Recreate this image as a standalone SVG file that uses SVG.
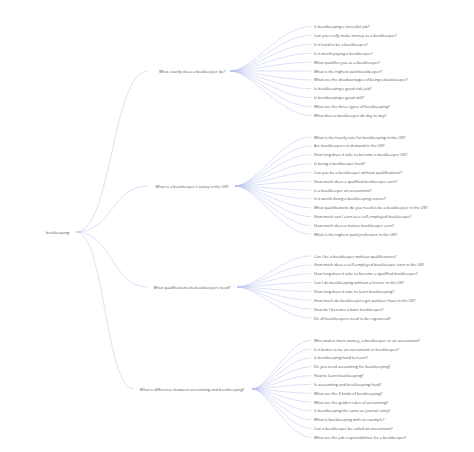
<svg xmlns="http://www.w3.org/2000/svg" width="474" height="452" viewBox="0 0 474 452">
<style>
text{font-family:"Open Sans","Liberation Sans",sans-serif;font-size:3.9px;fill:#555;dominant-baseline:central}
.b{text-anchor:middle}
.c path{fill:none;stroke:#b8c3f1;stroke-width:0.5}
</style>
<rect width="474" height="452" fill="#fff"/>
<g class="c" id="connectors">
<path d="M76 232 C112 232,112 71,148 71"/>
<path d="M76 232 C112 232,112 186,148 186"/>
<path d="M76 232 C112 232,112 287,148 287"/>
<path d="M76 232 C105 232,105 389,134 389"/>
<g id="f1">
<path d="M230 71 C252 71,280 26.5,311 26.5"/><path d="M230 71 C252 71,280 35.4,311 35.4"/><path d="M230 71 C252 71,280 44.3,311 44.3"/><path d="M230 71 C252 71,280 53.2,311 53.2"/><path d="M230 71 C252 71,280 62.1,311 62.1"/><path d="M230 71 C252 71,280 71,311 71"/><path d="M230 71 C252 71,280 79.9,311 79.9"/><path d="M230 71 C252 71,280 88.8,311 88.8"/><path d="M230 71 C252 71,280 97.7,311 97.7"/><path d="M230 71 C252 71,280 106.6,311 106.6"/><path d="M230 71 C252 71,280 115.5,311 115.5"/>
</g>
<g id="f2">
<path d="M235 186 C256 186,282 137,311 137"/><path d="M235 186 C256 186,282 145.85,311 145.85"/><path d="M235 186 C256 186,282 154.7,311 154.7"/><path d="M235 186 C256 186,282 163.55,311 163.55"/><path d="M235 186 C256 186,282 172.4,311 172.4"/><path d="M235 186 C256 186,282 181.25,311 181.25"/><path d="M235 186 C256 186,282 190.1,311 190.1"/><path d="M235 186 C256 186,282 198.95,311 198.95"/><path d="M235 186 C256 186,282 207.8,311 207.8"/><path d="M235 186 C256 186,282 216.65,311 216.65"/><path d="M235 186 C256 186,282 225.5,311 225.5"/><path d="M235 186 C256 186,282 234.35,311 234.35"/>
</g>
<g id="f3">
<path d="M237 287 C257 287,283 256,311 256"/><path d="M237 287 C257 287,283 264.86,311 264.86"/><path d="M237 287 C257 287,283 273.71,311 273.71"/><path d="M237 287 C257 287,283 282.57,311 282.57"/><path d="M237 287 C257 287,283 291.43,311 291.43"/><path d="M237 287 C257 287,283 300.29,311 300.29"/><path d="M237 287 C257 287,283 309.14,311 309.14"/><path d="M237 287 C257 287,283 318,311 318"/>
</g>
<g id="f4">
<path d="M252 389 C268 389,288 340.3,311 340.3"/><path d="M252 389 C268 389,288 349.12,311 349.12"/><path d="M252 389 C268 389,288 357.94,311 357.94"/><path d="M252 389 C268 389,288 366.76,311 366.76"/><path d="M252 389 C268 389,288 375.58,311 375.58"/><path d="M252 389 C268 389,288 384.4,311 384.4"/><path d="M252 389 C268 389,288 393.22,311 393.22"/><path d="M252 389 C268 389,288 402.04,311 402.04"/><path d="M252 389 C268 389,288 410.86,311 410.86"/><path d="M252 389 C268 389,288 419.68,311 419.68"/><path d="M252 389 C268 389,288 428.5,311 428.5"/><path d="M252 389 C268 389,288 437.3,311 437.3"/>
</g>
</g>
<g id="root"><text x="57.5" y="232" class="b">bookkeeping</text></g>
<g id="b1"><text x="192" y="71" class="b">What exactly does a bookkeeper do?</text></g>
<g id="b2"><text x="192" y="186" class="b">What is a bookkeeper's salary in the UK?</text></g>
<g id="b3"><text x="192" y="287" class="b">What qualifications do bookkeepers need?</text></g>
<g id="b4"><text x="192" y="389" class="b">What is difference between accounting and bookkeeping?</text></g>
<g id="leaves1">
<text x="314" y="26.5">Is bookkeeping a stressful job?</text>
<text x="314" y="35.4">Can you really make money as a bookkeeper?</text>
<text x="314" y="44.3">Is it hard to be a bookkeeper?</text>
<text x="314" y="53.2">Is it worth paying a bookkeeper?</text>
<text x="314" y="62.1">What qualifies you as a bookkeeper?</text>
<text x="314" y="71">What is the highest paid bookkeeper?</text>
<text x="314" y="79.9">What are the disadvantages of being a bookkeeper?</text>
<text x="314" y="88.8">Is bookkeeping a good side job?</text>
<text x="314" y="97.7">Is bookkeeping a good skill?</text>
<text x="314" y="106.6">What are the three types of bookkeeping?</text>
<text x="314" y="115.5">What does a bookkeeper do day to day?</text>
</g>
<g id="leaves2">
<text x="314" y="137">What is the hourly rate for bookkeeping in the UK?</text>
<text x="314" y="145.85">Are bookkeepers in demand in the UK?</text>
<text x="314" y="154.7">How long does it take to become a bookkeeper UK?</text>
<text x="314" y="163.55">Is being a bookkeeper hard?</text>
<text x="314" y="172.4">Can you be a bookkeeper without qualifications?</text>
<text x="314" y="181.25">How much does a qualified bookkeeper earn?</text>
<text x="314" y="190.1">Is a bookkeeper an accountant?</text>
<text x="314" y="198.95">Is it worth doing a bookkeeping course?</text>
<text x="314" y="207.8">What qualifications do you need to be a bookkeeper in the UK?</text>
<text x="314" y="216.65">How much can I earn as a self-employed bookkeeper?</text>
<text x="314" y="225.5">How much does a trainee bookkeeper earn?</text>
<text x="314" y="234.35">What is the highest paid profession in the UK?</text>
</g>
<g id="leaves3">
<text x="314" y="256">Can I be a bookkeeper without qualifications?</text>
<text x="314" y="264.86">How much does a self-employed bookkeeper earn in the UK?</text>
<text x="314" y="273.71">How long does it take to become a qualified bookkeeper?</text>
<text x="314" y="282.57">Can I do bookkeeping without a licence in the UK?</text>
<text x="314" y="291.43">How long does it take to learn bookkeeping?</text>
<text x="314" y="300.29">How much do bookkeepers get paid per hour in the UK?</text>
<text x="314" y="309.14">How do I become a basic bookkeeper?</text>
<text x="314" y="318">Do all bookkeepers need to be registered?</text>
</g>
<g id="leaves4">
<text x="314" y="340.3">Who makes more money, a bookkeeper or an accountant?</text>
<text x="314" y="349.12">Is it better to be an accountant or bookkeeper?</text>
<text x="314" y="357.94">Is bookkeeping hard to learn?</text>
<text x="314" y="366.76">Do you need accounting for bookkeeping?</text>
<text x="314" y="375.58">How to learn bookkeeping?</text>
<text x="314" y="384.4">Is accounting and bookkeeping hard?</text>
<text x="314" y="393.22">What are the 3 kinds of bookkeeping?</text>
<text x="314" y="402.04">What are the golden rules of accounting?</text>
<text x="314" y="410.86">Is bookkeeping the same as journal entry?</text>
<text x="314" y="419.68">What is bookkeeping with an example?</text>
<text x="314" y="428.5">Can a bookkeeper be called an accountant?</text>
<text x="314" y="437.3">What are the job responsibilities for a bookkeeper?</text>
</g>
</svg>
